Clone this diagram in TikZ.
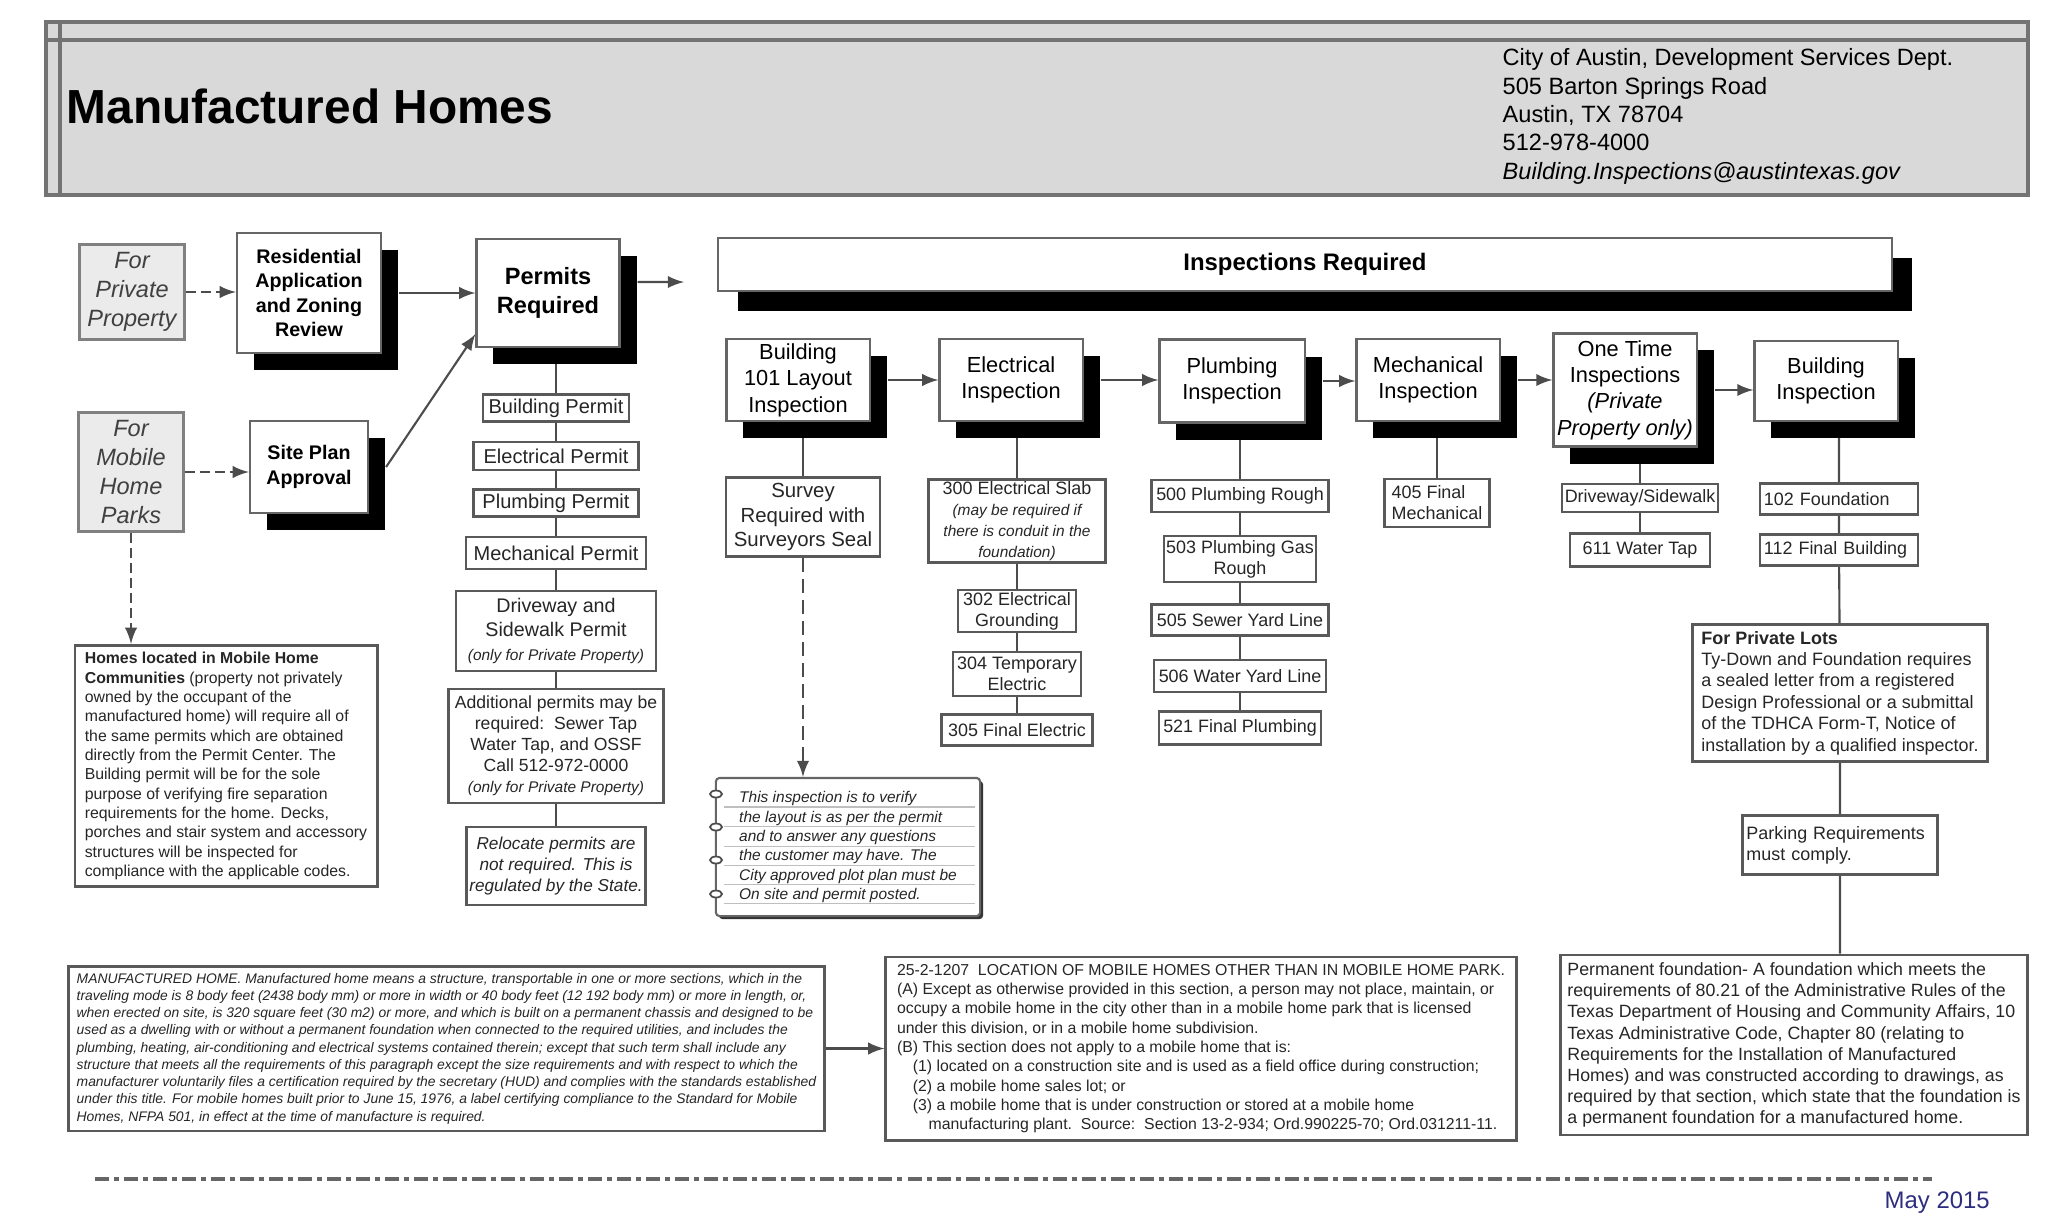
\documentclass[tikz,border=0pt]{standalone}
\usepackage{fontspec}
\setmainfont{Liberation Sans}
\usetikzlibrary{shadows,backgrounds}
\definecolor{datecol}{RGB}{45,45,125}
\newcommand{\fsz}[2]{\fontsize{#1pt}{#2pt}\selectfont}
\newcommand{\smit}[1]{{\fsz{4.4}{5.2}\itshape #1}}

\tikzset{
  shbox/.style={draw=black!60, line width=0.6pt, fill=white, inner sep=0pt, align=center,
    drop shadow={shadow xshift=#1, shadow yshift=-#1, fill=black, opacity=1}},
  shbox/.default=0.17cm,
  insp/.style={shbox, minimum width=1.43cm, minimum height=0.82cm, font=\fsz{6.2}{7.5}},
  graybox/.style={draw=black!50, line width=0.8pt, fill=black!8, inner sep=0pt, align=center,
    text=black!75, minimum width=1.05cm, font=\fsz{6.7}{8.3}\itshape},
  subbox/.style={draw=black!65, line width=0.8pt, fill=white, inner sep=0.5pt, align=center,
    text=black!85, font=\fsz{5.1}{6}},
  txtbox/.style={draw=black!65, line width=0.8pt, fill=white, inner sep=2pt, align=left, text=black!85},
  notebox/.style={draw=black!60, line width=0.6pt, fill=white, rounded corners=1pt, align=left,
    text=black!85, drop shadow={shadow xshift=0.03cm, shadow yshift=-0.03cm, fill=black!80, opacity=1}},
  conn/.style={draw=black!70, line width=0.6pt},
  arr/.style={conn, -latex},
  dasharr/.style={conn, -latex, dash pattern=on 0.1cm off 0.05cm},
}

\begin{document}
\begin{tikzpicture}[x=0.01cm, y=-0.01cm]
\useasboundingbox (0,0) rectangle (2064,1223);
% header
\fill [black!15] (46,22) rectangle (2028,195);
\draw [black!55, line width=1.3pt] (46,22) rectangle (2028,195);
\draw [black!55, line width=1.3pt] (46,40) -- (2028,40);
\draw [black!55, line width=1pt] (60,22) -- (60,195);
\node [anchor=west, inner sep=0pt, font=\fsz{13.6}{16}\bfseries] (title) at (66,106) {Manufactured Homes};
\node [anchor=west, inner sep=0pt, align=left, font=\fsz{6.7}{8.05}] (addr) at (1502,116.5)
  {City of Austin, Development Services Dept.\\505 Barton Springs Road\\Austin, TX 78704\\512-978-4000\\\textit{Building.Inspections@austintexas.gov}};
%
% application and permits
\node [graybox, minimum height=0.95cm] (fpp) at (132,292) {For\\Private\\Property};
\node [shbox, minimum width=1.44cm, minimum height=1.2cm, font=\fsz{5.6}{6.9}\bfseries] (res) at (309,293) {Residential\\Application\\and Zoning\\Review};
\node [shbox, minimum width=1.43cm, minimum height=1.08cm, font=\fsz{6.7}{8.3}\bfseries] (perm) at (548,293) {Permits\\Required};
\node [graybox, minimum height=1.19cm] (fmh) at (131,472) {For\\Mobile\\Home\\Parks};
\node [shbox, minimum width=1.18cm, minimum height=0.92cm, font=\fsz{5.6}{6.9}\bfseries] (site) at (309,467) {Site Plan\\Approval};
\node [txtbox, minimum width=3.02cm, minimum height=2.39cm, font=\fsz{4.5}{5.5}] (homes) at (226,766)
  {\textbf{Homes located in Mobile Home}\\\textbf{Communities} (property not privately\\owned by the occupant of the\\manufactured home) will require all of\\the same permits which are obtained\\directly from the Permit Center. The\\Building permit will be for the sole\\purpose of verifying fire separation\\requirements for the home. Decks,\\porches and stair system and accessory\\structures will be inspected for\\compliance with the applicable codes.};
%
\node [subbox, minimum width=1.46cm, minimum height=0.27cm, font=\fsz{5.7}{6.8}] (bp) at (556,408) {Building Permit};
\node [subbox, minimum width=1.65cm, minimum height=0.28cm, font=\fsz{5.7}{6.8}] (ep) at (556,456) {Electrical Permit};
\node [subbox, minimum width=1.65cm, minimum height=0.27cm, font=\fsz{5.7}{6.8}] (pp) at (556,503) {Plumbing Permit};
\node [subbox, minimum width=1.80cm, minimum height=0.32cm, font=\fsz{5.7}{6.8}] (mp) at (556,553) {Mechanical Permit};
\node [subbox, minimum width=2.00cm, minimum height=0.80cm, font=\fsz{5.6}{6.8}] (dp) at (556,631) {Driveway and\\Sidewalk Permit\\\smit{(only for Private Property)}};
\node [subbox, minimum width=2.15cm, minimum height=1.14cm, font=\fsz{5}{6}] (ap) at (556,746) {Additional permits may be\\required:\ \ Sewer Tap\\Water Tap, and OSSF\\Call 512-972-0000\\\smit{(only for Private Property)}};
\node [subbox, minimum width=1.79cm, minimum height=0.78cm, font=\fsz{4.9}{6}\itshape] (rp) at (556,866) {Relocate permits are\\not required. This is\\regulated by the State.};
%
\draw [dasharr] (fpp.east) -- (fpp.east -| res.west);
\draw [arr] ([xshift=0.17cm]res.east) -- (res.east -| perm.west);
\draw [dasharr] (fmh.east) -- (fmh.east -| site.west);
\draw [arr] ([xshift=0.17cm]site.east) -- ([yshift=0.14cm]perm.south west);
\draw [dasharr] (fmh.south) -- (fmh.south |- homes.north);
%
% inspections
\node [shbox=0.2cm, minimum width=11.74cm, minimum height=0.53cm, font=\fsz{6.8}{8}\bfseries] (ireq) at (1305,264.5) {Inspections Required};
\coordinate (toinsp) at (684,282);
\draw [arr] ([xshift=0.17cm, yshift=0.11cm]perm.east) -- (toinsp);
%
\node [insp] (ia) at (798,380) {Building\\101 Layout\\Inspection};
\node [insp] (ib) at (1011,380) {Electrical\\Inspection};
\node [insp, minimum width=1.45cm, minimum height=0.83cm] (ic) at (1232,381) {Plumbing\\Inspection};
\node [insp] (id) at (1428,380) {Mechanical\\Inspection};
\node [insp, minimum height=1.13cm] (ie) at (1625,390) {One Time\\Inspections\\\textit{(Private}\\\textit{Property only)}};
\node [insp, minimum height=0.80cm] (iff) at (1826,381) {Building\\Inspection};
\draw [arr] ([xshift=0.17cm]ia.east) -- (ia.east -| ib.west);
\draw [arr] ([xshift=0.17cm]ib.east) -- (ib.east -| ic.west);
\draw [arr] ([xshift=0.17cm]ic.east) -- (ic.east -| id.west);
\draw [arr] ([xshift=0.17cm]id.east) -- (id.east -| ie.west);
\draw [arr] ([xshift=0.17cm]ie.east) -- (ie.east -| iff.west);
%
\node [subbox, minimum width=1.54cm, minimum height=0.79cm, font=\fsz{5.8}{7}] (survey) at (803,517) {Survey\\Required with\\Surveyors Seal};
\node [notebox, minimum width=2.64cm, minimum height=1.38cm, font=\fsz{4.4}{5.5}\itshape] (note) at (848,847)
  {This inspection is to verify\\the layout is as per the permit\\and to answer any questions\\the customer may have. The\\City approved plot plan must be\\On site and permit posted.};
\foreach \yy in {807,826,846,865,884,903}
  \draw [black!25, line width=0.3pt] (724,\yy) -- (975,\yy);
\foreach \yy in {794,827,860,894}
  \draw [black!70, line width=0.5pt, fill=white] (716,\yy) ellipse (0.06cm and 0.035cm);
\draw [dasharr, dash pattern=on 0.14cm off 0.07cm] (survey.south) -- (survey.south |- note.north);
%
\node [subbox, minimum width=1.77cm, minimum height=0.81cm] (e300) at (1017,521) {300 Electrical Slab\\\smit{(may be required if}\\\smit{there is conduit in the}\\\smit{foundation)}};
\node [subbox, minimum width=1.18cm, minimum height=0.42cm] (e302) at (1017,611) {302 Electrical\\Grounding};
\node [subbox, minimum width=1.28cm, minimum height=0.44cm] (e304) at (1017,674) {304 Temporary\\Electric};
\node [subbox, minimum width=1.51cm, minimum height=0.31cm] (e305) at (1017,730) {305 Final Electric};
%
\node [subbox, minimum width=1.77cm, minimum height=0.32cm] (p500) at (1240,496) {500 Plumbing Rough};
\node [subbox, minimum width=1.52cm, minimum height=0.46cm] (p503) at (1240,559) {503 Plumbing Gas\\Rough};
\node [subbox, minimum width=1.77cm, minimum height=0.31cm] (p505) at (1240,620) {505 Sewer Yard Line};
\node [subbox, minimum width=1.72cm, minimum height=0.32cm] (p506) at (1240,676) {506 Water Yard Line};
\node [subbox, minimum width=1.62cm, minimum height=0.33cm] (p521) at (1240,728) {521 Final Plumbing};
%
\node [subbox, minimum width=1.05cm, minimum height=0.48cm, align=left] (m405) at (1437,503) {405 Final\\Mechanical};
\node [subbox, minimum width=1.56cm, minimum height=0.28cm] (o1) at (1640,498) {Driveway/Sidewalk};
\node [subbox, minimum width=1.40cm, minimum height=0.33cm] (o2) at (1640,550) {611 Water Tap};
%
\node [subbox, text width=1.50cm, inner sep=0.04cm, minimum height=0.31cm, align=left] (b102) at (1839,499) {102 Foundation};
\node [subbox, text width=1.50cm, inner sep=0.04cm, minimum height=0.31cm, align=left] (b112) at (1839,550) {112 Final Building};
\node [subbox, minimum width=2.95cm, minimum height=1.37cm, align=left, font=\fsz{5.1}{6.1}] (lots) at (1840,693)
  {\textbf{For Private Lots}\\Ty-Down and Foundation requires\\a sealed letter from a registered\\Design Professional or a submittal\\of the TDHCA Form-T, Notice of\\installation by a qualified inspector.};
\node [subbox, text width=1.87cm, inner sep=0.04cm, minimum height=0.59cm, align=left] (park) at (1840,845) {Parking Requirements\\must comply.};
%
% notes at the bottom
\node [txtbox, minimum width=7.55cm, minimum height=1.57cm, font=\fsz{3.95}{4.9}\itshape] (mhdef) at (446.5,1048.5)
  {MANUFACTURED HOME. Manufactured home means a structure, transportable in one or more sections, which in the\\traveling mode is 8 body feet (2438 body mm) or more in width or 40 body feet (12 192 body mm) or more in length, or,\\when erected on site, is 320 square feet (30 m2) or more, and which is built on a permanent chassis and designed to be\\used as a dwelling with or without a permanent foundation when connected to the required utilities, and includes the\\plumbing, heating, air-conditioning and electrical systems contained therein; except that such term shall include any\\structure that meets all the requirements of this paragraph except the size requirements and with respect to which the\\manufacturer voluntarily files a certification required by the secretary (HUD) and complies with the standards established\\under this title. For mobile homes built prior to June 15, 1976, a label certifying compliance to the Standard for Mobile\\Homes, NFPA 501, in effect at the time of manufacture is required.};
\node [txtbox, minimum width=6.30cm, minimum height=1.81cm, font=\fsz{4.5}{5.5}] (loc) at (1201,1048.5)
  {25-2-1207\ \ LOCATION OF MOBILE HOMES OTHER THAN IN MOBILE HOME PARK.\\(A) Except as otherwise provided in this section, a person may not place, maintain, or\\occupy a mobile home in the city other than in a mobile home park that is licensed\\under this division, or in a mobile home subdivision.\\(B) This section does not apply to a mobile home that is:\\\hspace{1em}(1) located on a construction site and is used as a field office during construction;\\\hspace{1em}(2) a mobile home sales lot; or\\\hspace{1em}(3) a mobile home that is under construction or stored at a mobile home\\\hspace{2em}manufacturing plant.\ \ Source:\ \ Section 13-2-934; Ord.990225-70; Ord.031211-11.};
\node [txtbox, minimum width=4.66cm, minimum height=1.80cm, font=\fsz{5.05}{6}] (pf) at (1794,1045)
  {Permanent foundation- A foundation which meets the\\requirements of 80.21 of the Administrative Rules of the\\Texas Department of Housing and Community Affairs, 10\\Texas Administrative Code, Chapter 80 (relating to\\Requirements for the Installation of Manufactured\\Homes) and was constructed according to drawings, as\\required by that section, which state that the foundation is\\a permanent foundation for a manufactured home.};
\draw [arr] (mhdef.east) -- (mhdef.east -| loc.west);
%
\begin{scope}[on background layer]
\draw [conn] (bp |- perm) -- (bp) -- (ep) -- (pp) -- (mp) -- (dp) -- (ap) -- (rp);
\draw [conn] (survey |- ia) -- (survey);
\draw [conn] (e300 |- ib) -- (e300) -- (e302) -- (e304) -- (e305);
\draw [conn] (p500 |- ic) -- (p500) -- (p503) -- (p505) -- (p506) -- (p521);
\draw [conn] (m405 |- id) -- (m405);
\draw [conn] (o1 |- ie) -- (o1) -- (o2);
\draw [conn] (b102 |- iff) -- (b102) -- (b112) -- (lots) -- (park) -- (park |- pf.north);
\end{scope}
%
\draw [black!60, line width=0.9pt, dash pattern=on 0.14cm off 0.05cm on 0.05cm off 0.05cm] (95,1179) -- (1932,1179);
\node [anchor=west, inner sep=0pt, text=datecol, font=\fsz{6.8}{8}] (date) at (1884,1203) {May 2015};
\end{tikzpicture}
\end{document}
